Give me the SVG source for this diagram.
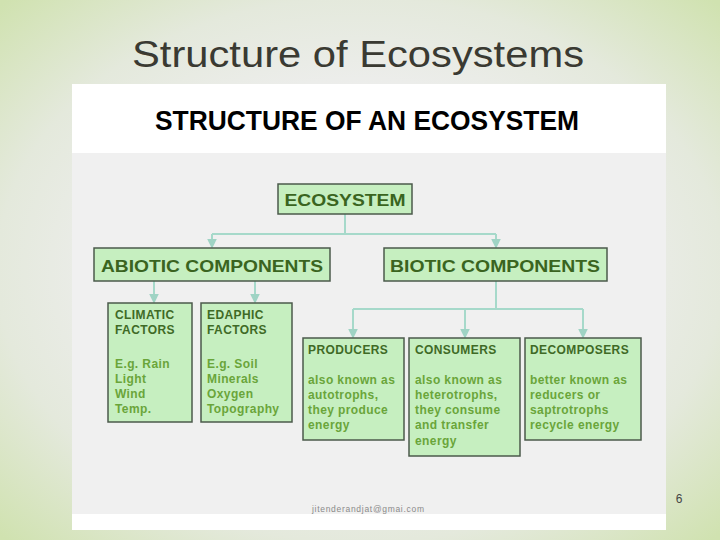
<svg xmlns="http://www.w3.org/2000/svg" width="720" height="540" viewBox="0 0 720 540">
<defs>
<radialGradient id="bg" cx="50%" cy="50%" r="70%">
<stop offset="0.45" stop-color="#eeeeee"/>
<stop offset="0.72" stop-color="#e4e9dc"/>
<stop offset="1" stop-color="#d0e2b0"/>
</radialGradient>
<marker id="ah" viewBox="0 0 6 6" refX="5" refY="3" markerWidth="5" markerHeight="5" orient="auto">
<path d="M0,0 L6,3 L0,6 z" fill="#9fd3c4"/>
</marker>
<style>
.box{fill:#c6efc0;stroke:#4b5a4b;stroke-width:1.5}
.hd{font-family:"Liberation Sans",Arial,sans-serif;font-weight:bold;fill:#3a6420}
.sm{font-family:"Liberation Sans",Arial,sans-serif;font-weight:bold;font-size:12px;letter-spacing:0.4px}
.h{fill:#3f6a26}
.b{fill:#6aa53a}
.ln{fill:none;stroke:#a6d9ca;stroke-width:2}
</style>
</defs>
<rect width="720" height="540" fill="url(#bg)"/>
<text x="358" y="67" text-anchor="middle" font-family="Liberation Sans,Arial,sans-serif" font-size="37" fill="#3a3a32" textLength="452" lengthAdjust="spacingAndGlyphs">Structure of Ecosystems</text>
<rect x="72" y="84" width="594" height="446" fill="#ffffff"/>
<rect x="72" y="153" width="594" height="361" fill="#f0f0f0"/>
<text x="367" y="130" text-anchor="middle" font-family="Liberation Sans,Arial,sans-serif" font-weight="bold" font-size="27" fill="#000" textLength="424" lengthAdjust="spacingAndGlyphs">STRUCTURE OF AN ECOSYSTEM</text>
<g id="connectors">
<path class="ln" d="M345,214 V234 M212,234 H496"/>
<path class="ln" d="M212,234 V247" marker-end="url(#ah)"/>
<path class="ln" d="M496,234 V247" marker-end="url(#ah)"/>
<path class="ln" d="M154,281 V302" marker-end="url(#ah)"/>
<path class="ln" d="M255,281 V302" marker-end="url(#ah)"/>
<path class="ln" d="M496,281 V309 M353,309 H583"/>
<path class="ln" d="M353,309 V337" marker-end="url(#ah)"/>
<path class="ln" d="M465,309 V337" marker-end="url(#ah)"/>
<path class="ln" d="M583,309 V337" marker-end="url(#ah)"/>
</g>
<g id="ecosystem">
<rect class="box" x="278" y="184" width="134" height="30"/>
<text class="hd" x="345" y="206" text-anchor="middle" font-size="17" textLength="121" lengthAdjust="spacingAndGlyphs">ECOSYSTEM</text>
</g>
<g id="abiotic">
<rect class="box" x="94" y="248" width="236" height="33"/>
<text class="hd" x="212" y="272" text-anchor="middle" font-size="17" textLength="222" lengthAdjust="spacingAndGlyphs">ABIOTIC COMPONENTS</text>
</g>
<g id="biotic">
<rect class="box" x="384" y="248" width="223" height="33"/>
<text class="hd" x="495" y="272" text-anchor="middle" font-size="17" textLength="210" lengthAdjust="spacingAndGlyphs">BIOTIC COMPONENTS</text>
</g>
<g id="climatic">
<rect class="box" x="108" y="303" width="84" height="119"/>
<text class="sm h" x="115" y="319">CLIMATIC</text>
<text class="sm h" x="115" y="334">FACTORS</text>
<text class="sm b" x="115" y="368">E.g. Rain</text>
<text class="sm b" x="115" y="383">Light</text>
<text class="sm b" x="115" y="398">Wind</text>
<text class="sm b" x="115" y="413">Temp.</text>
</g>
<g id="edaphic">
<rect class="box" x="201" y="303" width="91" height="119"/>
<text class="sm h" x="207" y="319">EDAPHIC</text>
<text class="sm h" x="207" y="334">FACTORS</text>
<text class="sm b" x="207" y="368">E.g. Soil</text>
<text class="sm b" x="207" y="383">Minerals</text>
<text class="sm b" x="207" y="398">Oxygen</text>
<text class="sm b" x="207" y="413">Topography</text>
</g>
<g id="producers">
<rect class="box" x="303" y="338" width="101" height="102"/>
<text class="sm h" x="308" y="354">PRODUCERS</text>
<text class="sm b" x="308" y="384">also known as</text>
<text class="sm b" x="308" y="399">autotrophs,</text>
<text class="sm b" x="308" y="414">they produce</text>
<text class="sm b" x="308" y="429">energy</text>
</g>
<g id="consumers">
<rect class="box" x="409" y="338" width="111" height="118"/>
<text class="sm h" x="415" y="354">CONSUMERS</text>
<text class="sm b" x="415" y="384">also known as</text>
<text class="sm b" x="415" y="399">heterotrophs,</text>
<text class="sm b" x="415" y="414">they consume</text>
<text class="sm b" x="415" y="429">and transfer</text>
<text class="sm b" x="415" y="445">energy</text>
</g>
<g id="decomposers">
<rect class="box" x="525" y="338" width="116" height="102"/>
<text class="sm h" x="530" y="354">DECOMPOSERS</text>
<text class="sm b" x="530" y="384">better known as</text>
<text class="sm b" x="530" y="399">reducers or</text>
<text class="sm b" x="530" y="414">saptrotrophs</text>
<text class="sm b" x="530" y="429">recycle energy</text>
</g>
<text x="312" y="512" font-family="Liberation Sans,Arial,sans-serif" font-size="8.5" fill="#8a8a8a" textLength="112" lengthAdjust="spacing">jitenderandjat@gmai.com</text>
<text x="679" y="503" text-anchor="middle" font-family="Liberation Sans,Arial,sans-serif" font-size="12" fill="#444">6</text>
</svg>
